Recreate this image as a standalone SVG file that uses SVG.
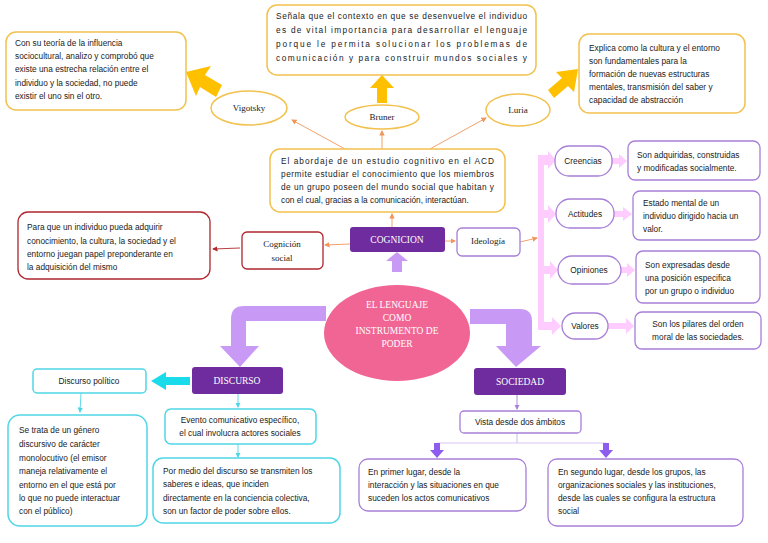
<svg xmlns="http://www.w3.org/2000/svg" width="768" height="543" viewBox="0 0 768 543">
<defs>
<style>
.t{font-family:"Liberation Sans",Arial,sans-serif;font-size:8.3px;fill:#1a1a1a}
.s{font-family:"Liberation Serif","Times New Roman",serif;font-size:9px;fill:#222}
.w{font-family:"Liberation Serif","Times New Roman",serif;font-size:9.5px;fill:#fff}
.gold{fill:#fff;stroke:#f2c14e;stroke-width:1.5}
.red{fill:#fff;stroke:#b0272f;stroke-width:1.3}
.pur{fill:#fff;stroke:#a77fd8;stroke-width:1.3}
.cy{fill:#fff;stroke:#4fd6e6;stroke-width:1.5}
.pf{fill:#6e2c9e}
.ln{fill:none;stroke-width:0.9}
</style>
<marker id="ao" markerWidth="6" markerHeight="6" refX="5" refY="3" orient="auto"><path d="M0,0L6,3L0,6z" fill="#f0965a"/></marker>
<marker id="ar" markerWidth="6" markerHeight="6" refX="5" refY="3" orient="auto"><path d="M0,0L6,3L0,6z" fill="#b0272f"/></marker>
<marker id="ac" markerWidth="6" markerHeight="6" refX="5" refY="3" orient="auto"><path d="M0,0L6,3L0,6z" fill="#4fd6e6"/></marker>
<marker id="ap" markerWidth="6" markerHeight="6" refX="5" refY="3" orient="auto"><path d="M0,0L6,3L0,6z" fill="#a77fd8"/></marker>
</defs>
<rect width="768" height="543" fill="#fff"/>
<g id="connectors">
<!-- orange thin -->
<line class="ln" stroke="#f0965a" x1="345" y1="149" x2="292" y2="120" marker-end="url(#ao)"/>
<line class="ln" stroke="#f0965a" x1="382" y1="149" x2="382" y2="131" marker-end="url(#ao)"/>
<line class="ln" stroke="#f0965a" x1="430" y1="149" x2="486" y2="118" marker-end="url(#ao)"/>
<line class="ln" stroke="#f0965a" x1="392" y1="227" x2="392" y2="214" marker-end="url(#ao)"/>
<line class="ln" stroke="#f0965a" x1="350" y1="244" x2="325" y2="245" marker-end="url(#ao)"/>
<line class="ln" stroke="#f0965a" x1="445" y1="241" x2="455" y2="241" marker-end="url(#ao)"/>
<line class="ln" stroke="#f0965a" x1="520" y1="242" x2="537" y2="238" marker-end="url(#ao)"/>
<line class="ln" stroke="#b0272f" x1="240" y1="248" x2="213" y2="249" marker-end="url(#ar)"/>
<!-- yellow big arrows -->
<path d="M222,85 L205,75 L211,66 L186,72 L196,96 L200,87 L216,97 Z" fill="#ffc000"/>
<path d="M377,103 L377,88 L370,88 L382,75 L394,88 L387,88 L387,103 Z" fill="#ffc000"/>
<path d="M548,90 L562,78 L556,72 L578,69 L574,92 L568,86 L554,98 Z" fill="#ffc000"/>
<!-- pink structure -->
<g fill="#ffccff">
<rect x="538" y="155" width="6" height="175"/>
<path d="M540,155 L548,155 L548,151 L556,160 L548,169 L548,165 L544,165 Z"/>
<path d="M544,210 L548,210 L548,205 L556,214 L548,223 L548,218 L544,218 Z"/>
<path d="M544,266 L550,266 L550,261 L558,270 L550,279 L550,274 L544,274 Z"/>
<path d="M540,322 L552,322 L552,317 L561,326 L552,335 L552,330 L540,330 Z"/>
<path d="M612,158 L619,158 L619,154 L627,161 L619,168 L619,164 L612,164 Z"/>
<path d="M614,211 L623,211 L623,207 L632,214 L623,221 L623,217 L614,217 Z"/>
<path d="M621,267 L627,267 L627,263 L635,270 L627,277 L627,273 L621,273 Z"/>
<path d="M608,323 L626,323 L626,318 L634,326 L626,334 L626,329 L608,329 Z"/>
</g>
<!-- lavender big arrows -->
<g fill="#c99af5">
<path d="M326,306 L244,306 Q231,306 231,319 L231,346 L220,346 L240,367 L259,346 L246,346 L246,321 L326,321 Z"/>
<path d="M470,309 L520,309 Q532,309 532,321 L532,346 L541,346 L516,367 L496,346 L506,346 L506,324 L470,324 Z"/>
<path d="M392,272 L392,261 L386,261 L397,252 L408,261 L402,261 L402,272 Z"/>
</g>
<!-- cyan -->
<path d="M190,377 L166,377 L166,372 L151,381 L166,390 L166,385 L190,385 Z" fill="#19dbea"/>
<line class="ln" stroke="#4fd6e6" x1="81" y1="393" x2="80" y2="412" marker-end="url(#ac)"/>
<line class="ln" stroke="#4fd6e6" x1="238" y1="394" x2="238" y2="407" marker-end="url(#ac)"/>
<line class="ln" stroke="#4fd6e6" x1="238" y1="444" x2="238" y2="457" marker-end="url(#ac)"/>
<!-- sociedad -->
<line class="ln" stroke="#a77fd8" x1="517" y1="395" x2="517" y2="409" marker-end="url(#ap)"/>
<line stroke="#d9c6f3" stroke-width="1.2" x1="437" y1="443" x2="606" y2="443"/>
<line stroke="#d9c6f3" stroke-width="1.2" x1="517" y1="433" x2="517" y2="443"/>
<path d="M434,443 L440,443 L440,450 L444,450 L437,458 L430,450 L434,450 Z" fill="#8f5cf0"/>
<path d="M603,443 L609,443 L609,450 L613,450 L606,458 L599,450 L603,450 Z" fill="#8f5cf0"/>
</g>
<g id="vig-text"><rect class="gold" x="6" y="32" width="180" height="78" rx="10"/>
<text class="t" x="15" y="46">Con su teoría de la influencia</text>
<text class="t" x="15" y="59">sociocultural, analizo y comprobó que</text>
<text class="t" x="15" y="72">existe una estrecha relación entre el</text>
<text class="t" x="15" y="86">individuo y la sociedad, no puede</text>
<text class="t" x="15" y="99">existir el uno sin el otro.</text></g>
<g id="vigotsky"><ellipse class="gold" cx="249" cy="108" rx="38" ry="17"/><text class="s" x="249" y="111" text-anchor="middle">Vigotsky</text></g>
<g id="bruner-text"><rect class="gold" x="267" y="5" width="269" height="70" rx="10"/>
<text class="t" x="276" y="19" textLength="251" lengthAdjust="spacing">Señala que el contexto en que se desenvuelve el individuo</text>
<text class="t" x="276" y="33" textLength="251" lengthAdjust="spacing">es de vital importancia para desarrollar el lenguaje</text>
<text class="t" x="276" y="47" textLength="251" lengthAdjust="spacing">porque le permita solucionar los problemas de</text>
<text class="t" x="276" y="61" textLength="251" lengthAdjust="spacing">comunicación y para construir mundos sociales y</text></g>
<g id="bruner"><ellipse class="gold" cx="382" cy="117" rx="37" ry="12"/><text class="s" x="382" y="120" text-anchor="middle">Bruner</text></g>
<g id="luria"><ellipse class="gold" cx="518" cy="110" rx="32" ry="16"/><text class="s" x="518" y="113" text-anchor="middle">Luria</text></g>
<g id="luria-text"><rect class="gold" x="579" y="34" width="166" height="79" rx="10"/>
<text class="t" x="589" y="51">Explica como la cultura y el entorno</text>
<text class="t" x="589" y="64">son fundamentales para la</text>
<text class="t" x="589" y="77">formación de nuevas estructuras</text>
<text class="t" x="589" y="90">mentales, transmisión del saber y</text>
<text class="t" x="589" y="103">capacidad de abstracción</text></g>
<g id="acd"><rect class="gold" x="270" y="149" width="235" height="63" rx="10"/>
<text class="t" x="281" y="164" textLength="213" lengthAdjust="spacing">El abordaje de un estudio cognitivo en el ACD</text>
<text class="t" x="281" y="177" textLength="213" lengthAdjust="spacing">permite estudiar el conocimiento que los miembros</text>
<text class="t" x="281" y="190" textLength="213" lengthAdjust="spacing">de un grupo poseen del mundo social que habitan y</text>
<text class="t" x="281" y="203">con el cual, gracias a la comunicación, interactúan.</text></g>
<g id="cognicion"><rect class="pf" x="350" y="227" width="95" height="25" rx="3"/><text class="w" x="397" y="243" text-anchor="middle">COGNICION</text></g>
<g id="cog-social"><rect class="red" x="242" y="232" width="81" height="37" rx="5"/>
<text class="s" x="282" y="247" text-anchor="middle">Cognición</text><text class="s" x="282" y="261" text-anchor="middle">social</text></g>
<g id="cog-text"><rect class="red" x="18" y="212" width="192" height="67" rx="10"/>
<text class="t" x="27" y="230">Para que un individuo pueda adquirir</text>
<text class="t" x="27" y="244">conocimiento, la cultura, la sociedad y el</text>
<text class="t" x="27" y="257">entorno juegan papel preponderante en</text>
<text class="t" x="27" y="270">la adquisición del mismo</text></g>
<g id="ideologia"><rect class="pur" x="457" y="228" width="63" height="28" rx="5"/><text class="s" x="488" y="244" text-anchor="middle">Ideología</text></g>
<g id="creencias"><rect class="pur" x="555" y="146" width="57" height="30" rx="14"/><text class="t" x="583" y="164" text-anchor="middle">Creencias</text></g>
<g id="actitudes"><rect class="pur" x="556" y="199" width="58" height="29" rx="14"/><text class="t" x="585" y="217" text-anchor="middle">Actitudes</text></g>
<g id="opiniones"><rect class="pur" x="558" y="256" width="63" height="28" rx="14"/><text class="t" x="589" y="273" text-anchor="middle">Opiniones</text></g>
<g id="valores"><rect class="pur" x="562" y="313" width="46" height="26" rx="13"/><text class="t" x="585" y="329" text-anchor="middle">Valores</text></g>
<g id="creencias-d"><rect class="pur" x="628" y="141" width="132" height="39" rx="7"/>
<text class="t" x="637" y="158">Son adquiridas, construidas</text><text class="t" x="637" y="171">y modificadas socialmente.</text></g>
<g id="actitudes-d"><rect class="pur" x="633" y="191" width="127" height="49" rx="7"/>
<text class="t" x="643" y="206">Estado mental de un</text><text class="t" x="643" y="219">individuo dirigido hacia un</text><text class="t" x="643" y="232">valor.</text></g>
<g id="opiniones-d"><rect class="pur" x="636" y="251" width="124" height="52" rx="7"/>
<text class="t" x="645" y="268">Son expresadas desde</text><text class="t" x="645" y="281">una posición especifica</text><text class="t" x="645" y="294">por un grupo o individuo</text></g>
<g id="valores-d"><rect class="pur" x="635" y="312" width="126" height="37" rx="7"/>
<text class="t" x="698" y="327" text-anchor="middle">Son los pilares del orden</text><text class="t" x="698" y="340" text-anchor="middle">moral de las sociedades.</text></g>
<g id="centro"><ellipse cx="397" cy="333" rx="73" ry="48" fill="#f06594"/>
<text class="w" x="397" y="308" text-anchor="middle">EL LENGUAJE</text>
<text class="w" x="397" y="321" text-anchor="middle">COMO</text>
<text class="w" x="397" y="334" text-anchor="middle">INSTRUMENTO DE</text>
<text class="w" x="397" y="347" text-anchor="middle">PODER</text></g>
<g id="discurso"><rect class="pf" x="192" y="367" width="91" height="27" rx="3"/><text class="w" x="237" y="384" text-anchor="middle">DISCURSO</text></g>
<g id="sociedad"><rect class="pf" x="474" y="368" width="92" height="27" rx="3"/><text class="w" x="520" y="385" text-anchor="middle">SOCIEDAD</text></g>
<g id="politico"><rect class="cy" x="33" y="369" width="113" height="24" rx="4"/><text class="t" x="89" y="384" text-anchor="middle">Discurso político</text></g>
<g id="politico-d"><rect class="cy" x="8" y="415" width="139" height="111" rx="12"/>
<text class="t" x="19" y="433">Se trata de un género</text>
<text class="t" x="19" y="447">discursivo de carácter</text>
<text class="t" x="19" y="461">monolocutivo (el emisor</text>
<text class="t" x="19" y="474">maneja relativamente el</text>
<text class="t" x="19" y="488">entorno en el que está por</text>
<text class="t" x="19" y="501">lo que no puede interactuar</text>
<text class="t" x="19" y="514">con el público)</text></g>
<g id="evento"><rect class="cy" x="165" y="409" width="151" height="35" rx="6"/>
<text class="t" x="240" y="423" text-anchor="middle">Evento comunicativo específico,</text>
<text class="t" x="240" y="436" text-anchor="middle">el cual involucra actores sociales</text></g>
<g id="pormedio"><rect class="cy" x="153" y="458" width="187" height="65" rx="10"/>
<text class="t" x="163" y="474">Por medio del discurso se transmiten los</text>
<text class="t" x="163" y="487">saberes e ideas, que inciden</text>
<text class="t" x="163" y="501">directamente en la conciencia colectiva,</text>
<text class="t" x="163" y="514">son un factor de poder sobre ellos.</text></g>
<g id="vista"><rect class="pur" x="460" y="411" width="121" height="22" rx="4"/><text class="t" x="520" y="425" text-anchor="middle">Vista desde dos ámbitos</text></g>
<g id="primer"><rect class="pur" x="359" y="459" width="167" height="52" rx="9"/>
<text class="t" x="368" y="475">En primer lugar, desde la</text>
<text class="t" x="368" y="488">interacción y las situaciones en que</text>
<text class="t" x="368" y="501">suceden los actos comunicativos</text></g>
<g id="segundo"><rect class="pur" x="548" y="459" width="195" height="67" rx="9"/>
<text class="t" x="558" y="475">En segundo lugar, desde los grupos, las</text>
<text class="t" x="558" y="488">organizaciones sociales y las instituciones,</text>
<text class="t" x="558" y="501">desde las cuales se configura la estructura</text>
<text class="t" x="558" y="514">social</text></g>
</svg>
